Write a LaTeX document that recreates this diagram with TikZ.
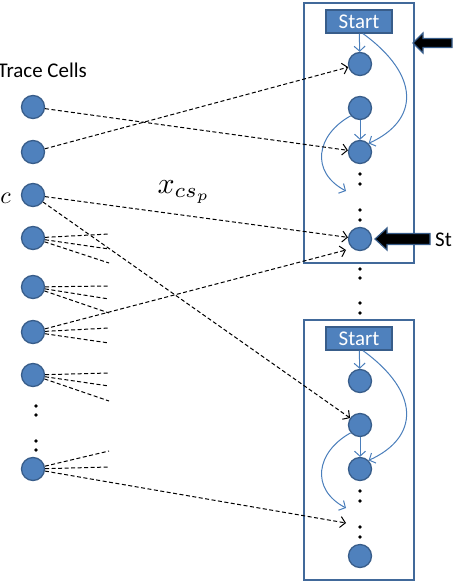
\documentclass[tikz,border=0pt]{standalone}
\usepackage{fontspec}
\newfontfamily\carlito{Carlito}
\usetikzlibrary{arrows.meta}
\definecolor{cellfill}{HTML}{4F81BD}
\definecolor{celldraw}{HTML}{385D8A}
\definecolor{panelblue}{HTML}{41699A}
\definecolor{flowblue}{HTML}{4A7EBB}
\tikzset{
  cell/.style={circle, fill=cellfill, draw=celldraw, line width=1.3bp, minimum size=23bp, inner sep=0pt},
  link/.style={draw=black, dash pattern=on 4bp off 2.5bp, line width=1bp},
  linkarr/.style={link, -{Straight Barb[length=5bp,width=11bp]}},
  flow/.style={draw=flowblue, line width=1bp, -{Straight Barb[length=5bp,width=11bp]}},
  panel/.style={draw=panelblue, line width=2bp},
  startbox/.style={fill=cellfill, draw=celldraw, line width=1.3bp, minimum width=66bp, minimum height=23bp, inner sep=0pt, text=white, font=\carlito\fontsize{21}{21}\selectfont},
  dotmark/.style={circle, fill=black, inner sep=0pt, minimum size=3.6bp},
  bigarrow/.style={fill=black, draw=celldraw, line width=1.2bp, line join=miter},
  lbl/.style={inner sep=0pt, font=\carlito\fontsize{21}{24}\selectfont}
}
\begin{document}
\begin{tikzpicture}[x=1bp,y=-1bp]
\useasboundingbox (0,0) rectangle (456,586);
% left trace cells
\foreach \n/\yy in {1/107,2/152,3/195,4/238,5/287,6/332,7/375,8/469}
  \node[cell] (L\n) at (33,\yy) {};
\foreach \k/\yy in {1/406,2/415,3/441,4/450}
  \node[dotmark] (ld\k) at (36,\yy) {};
\node[lbl, anchor=base east] (title) at (87,78) {Trace Cells};
\node[inner sep=0pt, anchor=base west, scale=2.4] (clbl) at (0,203) {$c$};
\node[inner sep=0pt, anchor=base west, scale=3.0] (xlbl) at (157,193) {$x_{cs_p}$};
% right panels
\foreach \p/\dy in {a/0,b/317}{
\begin{scope}[yshift=-\dy bp]
  \draw[panel] (304,3) rectangle (414,263);
  \node[startbox] (\p-S) at (359,21.5) {Start};
  \node[cell] (\p-R1) at (360,64) {};
  \node[cell] (\p-R2) at (360,108) {};
  \node[cell] (\p-R3) at (360,152) {};
  \node[cell] (\p-R4) at (360,239) {};
  \foreach \k/\yy in {1/174,2/184,3/210,4/220}
    \node[dotmark] (\p-d\k) at (360,\yy) {};
  \coordinate (\p-end) at (346,191);
  \draw[flow] (\p-S) -- (\p-R1);
  \draw[flow] ([xshift=4bp]\p-S.south) .. controls (420,75) and (420,120) .. (\p-R3.north east);
  \draw[flow] (\p-R2) -- (\p-R3);
  \draw[flow] (\p-R2.220) .. controls (316,135) and (310,172) .. (\p-end);
\end{scope}}
% dots between panels
\foreach \k/\yy in {1/269,2/278,3/303,4/313}
  \node[dotmark] (md\k) at (360,\yy) {};
% big arrows
\draw[bigarrow] (413,43) -- (423,33) -- (423,38.5) -- (452,38.5) -- (452,47.5) -- (423,47.5) -- (423,53) -- cycle;
\draw[bigarrow] (375,239) -- (387,228) -- (387,233.5) -- (430,233.5) -- (430,244.5) -- (387,244.5) -- (387,250) -- cycle;
\node[lbl, anchor=base west] (st) at (435,246) {St};
% long connectors
\coordinate (t5) at (346,250);
\coordinate (t8) at (346,523);
\draw[linkarr] (L1) -- (a-R3);
\draw[linkarr] (L2) -- (a-R1);
\draw[linkarr] (L3) -- (a-R4);
\draw[linkarr] (L6) -- (t5);
\draw[linkarr] (L3) -- (b-R2);
\draw[linkarr] (L8) -- (t8);
% fans
\foreach \n/\ys in {4/{234,249,263},5/{286,299,313},6/{328,343},7/{373,386,401},8/{451,467}}{
  \foreach \yy [count=\k] in \ys {
    \coordinate (L\n-f\k) at (109,\yy);
    \draw[link] (L\n) -- (L\n-f\k);
  }}
\end{tikzpicture}
\end{document}
